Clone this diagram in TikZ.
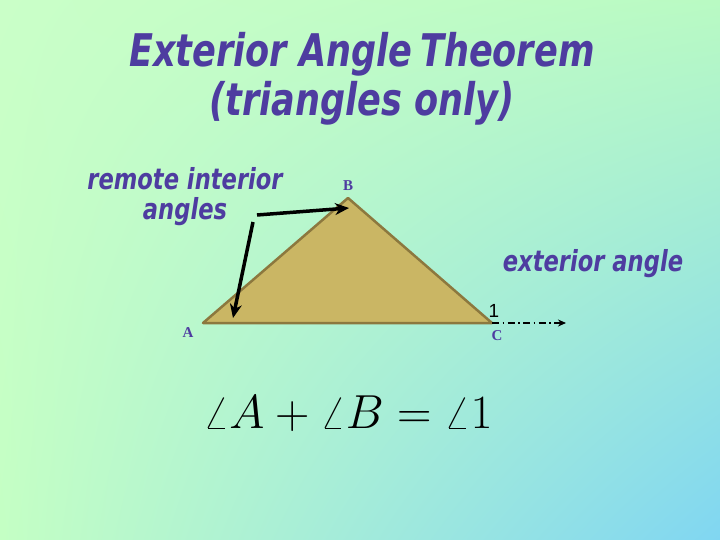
\documentclass[tikz,border=0pt]{standalone}
\usepackage{fontspec}
\usetikzlibrary{arrows.meta,shadings}
\newfontfamily\slidefont[FakeStretch=0.78]{DejaVu Sans}
\newfontfamily\vertexfont{Liberation Serif}
\newfontfamily\numfont{Liberation Sans}
\definecolor{slideblue}{RGB}{78,60,160}
\definecolor{trifill}{RGB}{202,182,100}
\definecolor{triedge}{RGB}{140,120,62}
\definecolor{bgtl}{RGB}{202,255,200}
\definecolor{bgtr}{RGB}{185,250,195}
\definecolor{bgbl}{RGB}{196,255,196}
\definecolor{bgbr}{RGB}{128,214,242}
\begin{document}
\begin{tikzpicture}[x=1pt,y=-1pt,
	title/.style={font=\slidefont\bfseries\itshape\fontsize{45}{48}\selectfont, text=slideblue, anchor=base},
	note/.style={font=\slidefont\bfseries\itshape\fontsize{29}{30}\selectfont, text=slideblue, align=center},
	vertex/.style={font=\vertexfont\bfseries\fontsize{15}{16}\selectfont, text=slideblue},
	pointer/.style={-{Stealth[length=14pt,width=12pt]}, line width=3.5pt}]
	\shade[upper left=bgtl, upper right=bgtr, lower left=bgbl, lower right=bgbr] (0,0) rectangle (720,540);
	\useasboundingbox (0,0) rectangle (720,540);
	
	\node[title] (title1) at (362,67) {Exterior Angle\,Theorem};
	\node[title] (title2) at (362,116) {(triangles only)};
	
	\coordinate (A) at (203,323);
	\coordinate (B) at (348,198);
	\coordinate (C) at (492,323);
	\draw[fill=trifill, draw=triedge, line width=2.5pt, line join=round] (A) -- (B) -- (C) -- cycle;
	
	\node[vertex] (lblA) at (188,333) {A};
	\node[vertex] (lblB) at (348,186) {B};
	\node[vertex] (lblC) at (497,336) {C};
	\node[font=\numfont\fontsize{19}{20}\selectfont] (one) at (494,311) {1};
	
	\node[note] (remote) at (185,197) {remote interior\\angles};
	\node[note] (exterior) at (593,264) {exterior angle};
	
	\coordinate (p1) at (257,215);
	\coordinate (p2) at (253,222);
	\coordinate (atB) at (349,208);
	\coordinate (atA) at (233,318);
	\coordinate (ray) at (566,323);
	\draw[pointer] (p1) -- (atB);
	\draw[pointer] (p2) -- (atA);
	\draw[-{Stealth[length=8pt,width=7pt]}, line width=1.5pt, dash pattern=on 7pt off 3.5pt on 1.5pt off 3.5pt] (C) -- (ray);
	
	\node[font=\fontsize{24}{28}\selectfont, scale=1.92] (rule) at (348,414) {$\angle A+\angle B=\angle 1$};
\end{tikzpicture}
\end{document}
